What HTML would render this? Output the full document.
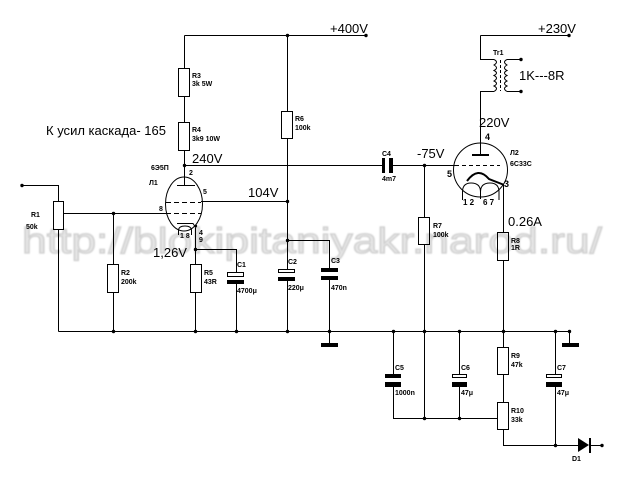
<!DOCTYPE html>
<html><head><meta charset="utf-8"><style>
html,body{margin:0;padding:0;background:#fff;}
svg{display:block;}
text{font-family:"Liberation Sans",sans-serif;}
.s{font-size:7px;font-weight:bold;fill:#000;}
.b{font-size:13px;fill:#000;}
</style></head><body>
<svg width="623" height="481" viewBox="0 0 623 481" xmlns="http://www.w3.org/2000/svg">
<defs><filter id="bl" x="-5%" y="-20%" width="110%" height="140%"><feGaussianBlur stdDeviation="0.8"/></filter></defs>
<rect width="623" height="481" fill="#fff"/>
<!-- watermark -->
<text x="22" y="253" font-size="36" textLength="580" lengthAdjust="spacingAndGlyphs" fill="#e6e6e6" stroke="#cdcdcd" stroke-width="1.2" filter="url(#bl)">http://blokipitaniyakr.narod.ru/</text>

<g stroke="#000" stroke-width="1" fill="none" shape-rendering="crispEdges">
<!-- top rail +400 -->
<path d="M184.5 35.5H366"/>
<path d="M184.5 35.5V68.5 M184.5 96.5V122.5 M184.5 150.5V185"/>
<rect x="178.5" y="68.5" width="11" height="28"/>
<rect x="178.5" y="122.5" width="11" height="28"/>
<!-- R6 column -->
<path d="M287.5 35.5V111.5 M287.5 138.5V269 M287.5 281V331.5"/>
<rect x="281.5" y="111.5" width="11" height="27"/>
<!-- 240V line -->
<path d="M184.5 165.5H382"/>
<!-- 104V line -->
<path d="M201 201.5H287.5"/>
<!-- C3 branch -->
<path d="M287.5 240.5H329.5V268 M329.5 280V345"/>
<!-- input & R1 -->
<path d="M22 185.5H58.5V201.5 M58.5 229.5V331.5"/>
<rect x="53.5" y="201.5" width="10" height="28"/>
<path d="M63.5 213.5H166"/>
<!-- R2 -->
<path d="M113.5 213.5V264.5 M113.5 292.5V331.5"/>
<rect x="107.5" y="264.5" width="11" height="28"/>
<!-- cathode L1 / R5 -->
<path d="M195.5 228V264.5 M195.5 292.5V331.5"/>
<rect x="190.5" y="264.5" width="11" height="28"/>
<path d="M195.5 249.5H236.5V272 M236.5 284V331.5"/>
<!-- bottom rail -->
<path d="M58.5 331.5H569.5V343"/>
<!-- C4 to L2 grid -->
<path d="M393 165.5H455"/>
<!-- R7 -->
<path d="M424.5 165.5V217.5 M424.5 244.5V418.5"/>
<rect x="418.5" y="217.5" width="11" height="27"/>
<!-- C5, C6 -->
<path d="M393.5 331.5V374 M393.5 387V418.5H497"/>
<path d="M459.5 331.5V374 M459.5 387V418.5"/>
<!-- R8 R9 R10 column -->
<path d="M503.5 184V232.5 M503.5 260.5V347.5 M503.5 374.5V402.5 M503.5 429.5V445.5H578"/>
<rect x="497.5" y="232.5" width="11" height="28"/>
<rect x="497.5" y="347.5" width="11" height="27"/>
<rect x="497.5" y="402.5" width="11" height="27"/>
<!-- C7 -->
<path d="M555.5 331.5V374 M555.5 387V445.5"/>
<path d="M591 445.5H602"/>
<!-- +230 / transformer -->
<path d="M480.5 35.5H569 M480.5 35.5V59.5H494 M494 91.5H480.5V155"/>
<path d="M507 59.5H521 M507 91.5H521"/>
</g>

<!-- resistor / cap plates etc -->
<g fill="#000">
<!-- C1 -->
<rect x="227.5" y="272.5" width="16" height="4" fill="#fff" stroke="#000"/>
<rect x="227" y="280" width="17" height="4"/>
<!-- C2 -->
<rect x="278.5" y="269.5" width="16" height="3" fill="#fff" stroke="#000"/>
<rect x="278" y="277" width="17" height="4"/>
<!-- C3 -->
<rect x="321" y="268" width="17" height="4"/>
<rect x="321" y="276" width="17" height="4"/>
<rect x="321" y="343" width="17" height="4"/>
<!-- ground right -->
<rect x="562" y="343" width="17" height="4"/>
<!-- C4 -->
<rect x="382" y="158" width="3" height="15"/>
<rect x="389" y="158" width="4" height="15"/>
<!-- C5 -->
<rect x="385" y="374" width="16" height="4"/>
<rect x="385" y="382" width="16" height="5"/>
<!-- C6 -->
<rect x="452.5" y="374.5" width="14" height="3" fill="#fff" stroke="#000"/>
<rect x="452" y="382" width="15" height="5"/>
<!-- C7 -->
<rect x="546.5" y="374.5" width="15" height="3" fill="#fff" stroke="#000"/>
<rect x="546" y="382" width="16" height="5"/>
<!-- diode -->
<path d="M578 438L578 452L589 445Z"/>
<rect x="589" y="438" width="2" height="15"/>
<!-- L2 anode plate -->
<rect x="472" y="154" width="17" height="2"/>
<!-- dots -->
<g>
<circle cx="287.5" cy="35.5" r="1.7"/><circle cx="366" cy="35.5" r="1.7"/>
<circle cx="184.5" cy="165.5" r="1.7"/><circle cx="287.5" cy="201.5" r="1.7"/>
<circle cx="287.5" cy="240.5" r="1.7"/><circle cx="22" cy="185.5" r="1.7"/>
<circle cx="113.5" cy="213.5" r="1.7"/><circle cx="195.5" cy="249.5" r="1.7"/>
<circle cx="113.5" cy="331.5" r="1.7"/><circle cx="195.5" cy="331.5" r="1.7"/>
<circle cx="236.5" cy="331.5" r="1.7"/><circle cx="287.5" cy="331.5" r="1.7"/>
<circle cx="329.5" cy="331.5" r="1.7"/><circle cx="393.5" cy="331.5" r="1.7"/>
<circle cx="424.5" cy="331.5" r="1.7"/><circle cx="459.5" cy="331.5" r="1.7"/>
<circle cx="503.5" cy="331.5" r="1.7"/><circle cx="555.5" cy="331.5" r="1.7"/>
<circle cx="569.5" cy="331.5" r="1.7"/><circle cx="424.5" cy="165.5" r="1.7"/>
<circle cx="424.5" cy="418.5" r="1.7"/><circle cx="459.5" cy="418.5" r="1.7"/>
<circle cx="555.5" cy="445.5" r="1.7"/><circle cx="602" cy="445.5" r="1.7"/>
<circle cx="569" cy="35.5" r="1.7"/><circle cx="521" cy="59.5" r="1.7"/>
<circle cx="521" cy="91.5" r="1.7"/><circle cx="196" cy="226" r="1.2"/>
</g>
</g>

<!-- L1 tube -->
<g stroke="#000" stroke-width="1" fill="none">
<ellipse cx="184" cy="204" rx="18.5" ry="27"/>
<path d="M177 185.5H195" shape-rendering="crispEdges"/>
<path d="M166 202.5H201" stroke-dasharray="5,3" shape-rendering="crispEdges"/>
<path d="M166 213.5H201" stroke-dasharray="5,3" shape-rendering="crispEdges"/>
<path d="M177 223.5H193L196 228"/>
<path d="M178.5 235V230Q179 226 185 226Q191 226 191.5 230V235"/>
<!-- L2 tube -->
<circle cx="480.5" cy="170" r="27"/>
<path d="M480.5 140V155" shape-rendering="crispEdges"/>
<path d="M455 165.5H500" stroke-dasharray="4,3" shape-rendering="crispEdges"/>
<path d="M467 181Q478 166 489 179L503 184.5" stroke-width="2"/>
<path d="M462.5 200V192Q462.5 183 471 183Q480.5 183 480.5 192V199"/>
<path d="M480.5 199V192Q480.5 183 490 183Q499 183 499 192V200"/>
<!-- transformer coils -->
<path d="M494 59.5Q499 62 494 65Q499 68 494 70.5Q499 73 494 75.5Q499 78 494 81Q499 83.5 494 86Q499 88.5 494 91.5"/>
<path d="M507 59.5Q502 62 507 65Q502 68 507 70.5Q502 73 507 75.5Q502 78 507 81Q502 83.5 507 86Q502 88.5 507 91.5"/>
<path d="M500.5 60V91" stroke-dasharray="3,2" shape-rendering="crispEdges"/>
</g>

<!-- big labels -->
<text class="b" x="330" y="33">+400V</text>
<text class="b" x="538" y="33">+230V</text>
<text class="b" x="192" y="163">240V</text>
<text class="b" x="248" y="197">104V</text>
<text class="b" x="46" y="135" textLength="120" lengthAdjust="spacingAndGlyphs">К усил каскада- 165</text>
<text class="b" x="153" y="257">1,26V</text>
<text class="b" x="417" y="158">-75V</text>
<text class="b" x="479" y="127">220V</text>
<text class="b" x="508" y="226">0.26A</text>
<text class="b" x="519" y="80">1K---8R</text>

<!-- small labels -->
<g class="s">
<text class="s" x="192" y="78">R3</text><text class="s" x="192" y="86">3k 5W</text>
<text class="s" x="192" y="132">R4</text><text class="s" x="192" y="141">3k9 10W</text>
<text class="s" x="295" y="121">R6</text><text class="s" x="295" y="130">100k</text>
<text class="s" x="151" y="170">6Э5П</text>
<text class="s" x="149" y="185">Л1</text>
<text class="s" x="189" y="175">2</text>
<text class="s" x="203" y="194">5</text>
<text class="s" x="159" y="211">8</text>
<text class="s" x="180" y="238">1 8</text>
<text class="s" x="199" y="235">4</text><text class="s" x="199" y="242">9</text>
<text class="s" x="31" y="217">R1</text><text class="s" x="26" y="229">50k</text>
<text class="s" x="121" y="275">R2</text><text class="s" x="121" y="284">200k</text>
<text class="s" x="204" y="275">R5</text><text class="s" x="204" y="284">43R</text>
<text class="s" x="237" y="267">C1</text><text class="s" x="237" y="293">4700μ</text>
<text class="s" x="288" y="264">C2</text><text class="s" x="288" y="290">220μ</text>
<text class="s" x="331" y="263">C3</text><text class="s" x="331" y="290">470n</text>
<text class="s" x="382" y="156">C4</text><text class="s" x="382" y="181">4m7</text>
<text class="s" x="433" y="228">R7</text><text class="s" x="433" y="237">100k</text>
<text class="s" x="511" y="243">R8</text><text class="s" x="511" y="250">1R</text>
<text class="s" x="511" y="358">R9</text><text class="s" x="511" y="367">47k</text>
<text class="s" x="511" y="413">R10</text><text class="s" x="511" y="422">33k</text>
<text class="s" x="395" y="370">C5</text><text class="s" x="395" y="395">1000n</text>
<text class="s" x="461" y="370">C6</text><text class="s" x="461" y="395">47μ</text>
<text class="s" x="557" y="370">C7</text><text class="s" x="557" y="395">47μ</text>
<text class="s" x="572" y="461">D1</text>
<text class="s" x="510" y="155">Л2</text><text class="s" x="510" y="166">6С33С</text>
<text class="s" x="493" y="55">Tr1</text>
<text style="font-size:9px" x="485" y="140">4</text>
<text style="font-size:9px" x="447" y="177">5</text>
<text style="font-size:9px" x="504" y="187">3</text>
<text style="font-size:8px" x="463" y="205">1 2</text>
<text style="font-size:8px" x="483" y="205">6 7</text>
</g>
</svg>
</body></html>
